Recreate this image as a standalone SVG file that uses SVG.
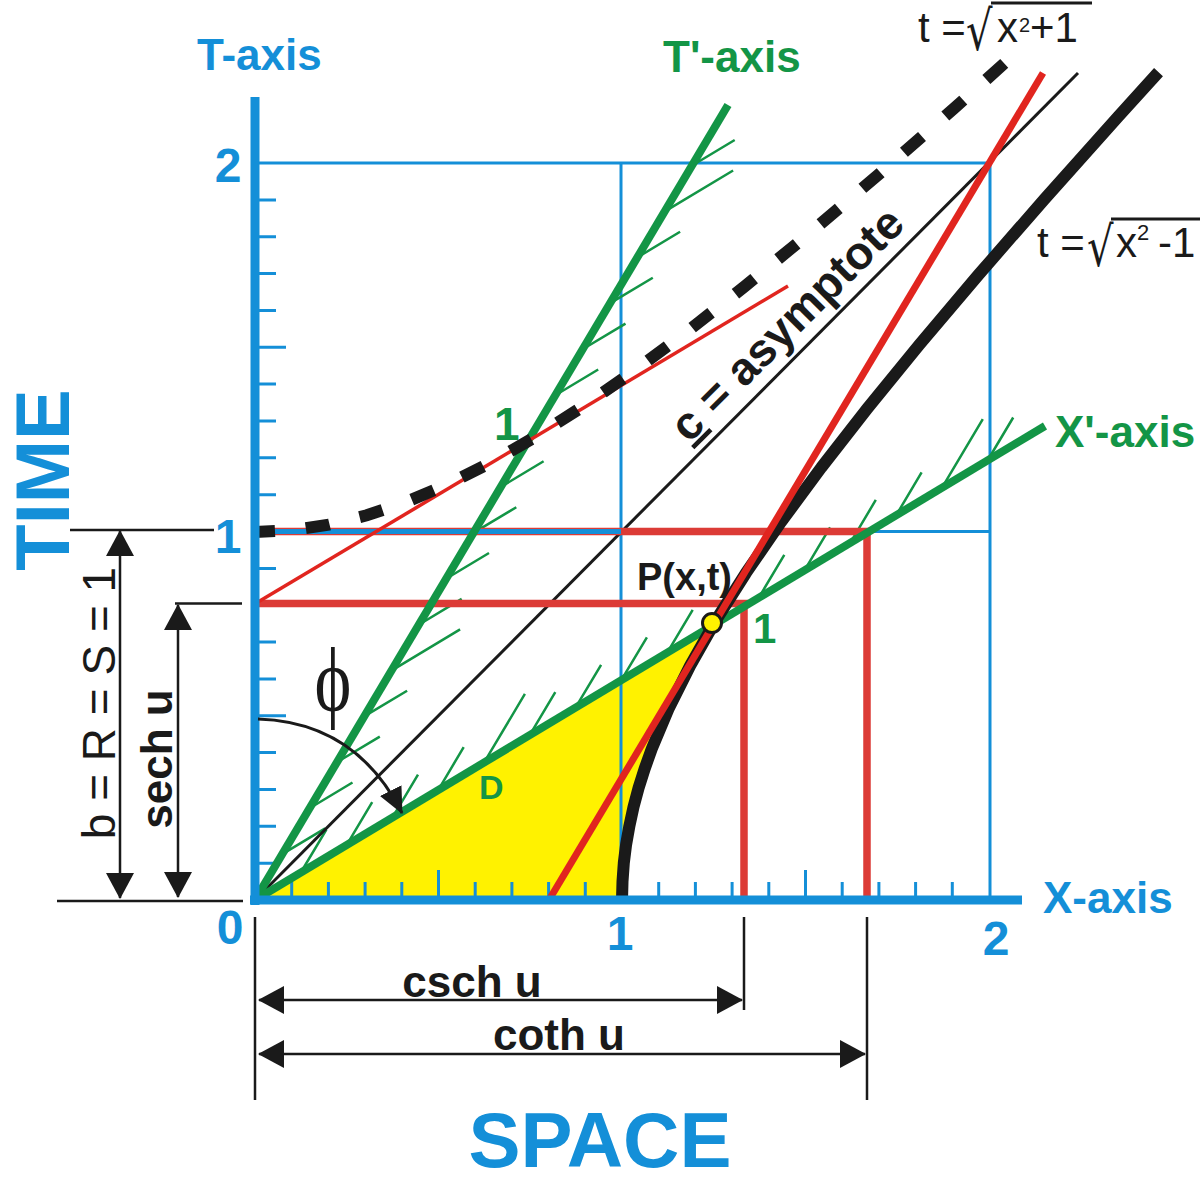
<svg xmlns="http://www.w3.org/2000/svg" width="1200" height="1184" viewBox="0 0 1200 1184">
<style>
.grid{stroke:#148fd8;stroke-width:3;fill:none}
.tick{stroke:#148fd8;stroke-width:3;fill:none}
.axis{stroke:#148fd8;stroke-width:9;fill:none}
.hatch{stroke:#139546;stroke-width:2.5;fill:none}
.gax{stroke:#139546;stroke-width:8;fill:none}
.rr{stroke:#dc3b36;stroke-width:7.5;fill:none}
.rt{stroke:#e1251f;fill:none}
.dim{stroke:#1a1a1a;stroke-width:2.5;fill:none}
.arr{marker-start:url(#ah);marker-end:url(#ah)}
text{font-family:"Liberation Sans",Arial,sans-serif}
.tb{fill:#148fd8;font-weight:bold}
.tg{fill:#139546;font-weight:bold}
.tk{fill:#1a1a1a}
.b{font-weight:bold}
.rad{font-family:"DejaVu Sans",sans-serif;fill:#1a1a1a}
</style>
<defs>
<marker id="ah" viewBox="0 0 26 28" refX="25" refY="14" markerWidth="26" markerHeight="28" markerUnits="userSpaceOnUse" orient="auto-start-reverse"><path d="M0,0 L26,14 L0,28 Z" fill="#1a1a1a"/></marker>
<marker id="ahs" viewBox="0 0 26 24" refX="25" refY="12" markerWidth="26" markerHeight="24" markerUnits="userSpaceOnUse" orient="auto"><path d="M0,0 L26,12 L0,24 Z" fill="#1a1a1a"/></marker>
</defs>
<rect width="1200" height="1184" fill="#fff"/>

<g id="sector">
<polygon points="255,900 713,625 690.1,665.7 668.8,708.2 651.8,748.8 644.7,768.6 638.6,787.9 633.5,807 629.4,825.9 626.1,844.6 623.8,863.1 622.5,881.6 622,900" fill="#fff200"/>
</g>

<g id="grid">
<path class="grid" d="M255,163 H990 M255,531.5 H990 M621,163 V900 M990,163 V900"/>
</g>

<g id="ticks">
<path class="tick" d="M259,863.2 H276 M259,826.3 H276 M259,789.5 H276 M259,752.6 H276 M259,715.8 H286 M259,678.9 H276 M259,642.1 H276 M259,605.2 H276 M259,568.4 H276 M259,494.7 H276 M259,457.8 H276 M259,421 H276 M259,384.1 H276 M259,347.3 H286 M259,310.4 H276 M259,273.6 H276 M259,236.7 H276 M259,199.9 H276"/>
<path class="tick" d="M291.7,896 V882 M328.4,896 V882 M365.1,896 V882 M401.8,896 V882 M438.5,896 V870 M475.2,896 V882 M511.9,896 V882 M548.6,896 V882 M585.3,896 V882 M658.7,896 V882 M695.4,896 V882 M732.1,896 V882 M768.8,896 V882 M805.5,896 V870 M842.2,896 V882 M878.9,896 V882 M915.6,896 V882 M952.3,896 V882"/>
</g>

<g id="hatches">
<path class="hatch" d="M300.8,872.5 L326.4,829.6 M346.6,845.1 L372.2,802.1 M392.4,817.6 L418,774.6 M438.2,790.1 L463.7,747.1 M484,762.7 L524.9,693.9 M529.7,735.2 L555.3,692.2 M575.5,707.7 L601.1,664.8 M621.3,680.2 L646.9,637.3 M667.1,652.8 L692.7,609.8 M758.7,597.8 L784.3,554.9 M804.5,570.4 L830.1,527.4 M850.3,542.9 L875.8,499.9 M896.1,515.4 L921.6,472.4 M941.9,487.9 L982.8,419.2 M987.6,460.5 L1013.2,417.5"/>
<path class="hatch" d="M282.3,854.1 L325.2,828.4 M309.6,808.2 L352.5,782.5 M336.9,762.3 L379.8,736.6 M364.2,716.4 L407.1,690.7 M391.5,670.6 L460.1,629.4 M418.8,624.7 L461.7,598.9 M446.1,578.8 L489,553 M473.4,532.9 L516.3,507.2 M500.7,487 L543.6,461.3 M555.3,395.2 L598.2,369.5 M582.6,349.3 L625.5,323.6 M609.9,303.4 L652.8,277.7 M637.2,257.5 L680.1,231.8 M664.5,211.6 L733.1,170.5 M691.8,165.8 L734.7,140"/>
</g>

<g id="asymptote">
<line x1="255" y1="900" x2="1078" y2="73" stroke="#1a1a1a" stroke-width="3"/>
</g>

<g id="red-rect">
<path class="rr" d="M258,603.5 H748 M744,600 V900 M258,531.5 H871 M867,528 V900"/>
<line x1="258" y1="531.5" x2="621" y2="531.5" stroke="#148fd8" stroke-width="5"/>
</g>

<g id="primed-axes">
<line class="gax" x1="255" y1="900" x2="728" y2="105"/>
<line class="gax" x1="255" y1="900" x2="1045" y2="426"/>
</g>

<g id="tangent-upper">
<line class="rt" x1="258" y1="602" x2="788" y2="286" stroke-width="3.5"/>
</g>

<g id="hyperbola-lower">
<polyline points="622,900 622.5,881.6 623.8,863.1 626.1,844.6 629.4,825.9 633.5,807 638.6,787.9 644.7,768.6 651.8,748.8 668.8,708.2 690.1,665.7 715.6,620.8 745.8,573.2 780.9,522.2 821.3,467.5 867.3,408.5 919.5,344.5 978.3,275 1044.4,199.2 1118.3,116.4 1158.5,72.1" fill="none" stroke="#1a1a1a" stroke-width="12" stroke-linejoin="round"/>
</g>

<g id="hyperbola-upper">
<polyline points="255,532 291.8,530.2 328.9,524.6 366.8,515.3 405.7,502.2 446.2,485 488.6,463.7 533.4,438.1 580.9,407.8 631.7,372.6 686.3,332.2 745.2,286 809,233.7 878.3,174.7 953.9,108.5 1012.6,55.9" fill="none" stroke="#1a1a1a" stroke-width="12" stroke-dasharray="24 31" stroke-dashoffset="4"/>
</g>

<g id="tangent-lower">
<line class="rt" x1="549" y1="900" x2="1043" y2="73" stroke-width="7"/>
</g>

<g id="axes">
<line class="axis" x1="255" y1="97" x2="255" y2="905"/>
<line class="axis" x1="250" y1="900" x2="1022" y2="900"/>
</g>

<g id="dimensions">
<path class="dim" d="M70,530 H214 M175,603.5 H242 M57,901 H243 M255,917 V1100 M744,917 V1010 M867,917 V1100"/>
<line class="dim arr" x1="120" y1="531" x2="120" y2="898"/>
<line class="dim arr" x1="178" y1="605" x2="178" y2="897"/>
<line class="dim arr" x1="259" y1="1000" x2="742" y2="1000"/>
<line class="dim arr" x1="259" y1="1054" x2="865" y2="1054"/>
</g>

<g id="phi-arc">
<path d="M258,719 Q356,722 402,813" fill="none" stroke="#1a1a1a" stroke-width="3" marker-end="url(#ahs)"/>
<text transform="translate(333,711) scale(1,1.3)" font-size="70" text-anchor="middle" style="font-family:'Liberation Serif','DejaVu Serif',serif" fill="#1a1a1a">ϕ</text>
</g>

<g id="point-P">
<circle cx="712" cy="623" r="9.5" fill="#fff200" stroke="#1a1a1a" stroke-width="3"/>
<text class="tk b" font-size="38" x="637" y="590">P(x,t)</text>
</g>

<g id="labels">
<text class="tb" font-size="44" x="197" y="70">T-axis</text>
<text class="tg" font-size="44" x="663" y="72">T'-axis</text>
<text class="tg" font-size="44" x="1055" y="447">X'-axis</text>
<text class="tb" font-size="44" x="1043" y="913">X-axis</text>
<text class="tb" font-size="48" x="228" y="182" text-anchor="middle">2</text>
<text class="tb" font-size="48" x="228" y="553" text-anchor="middle">1</text>
<text class="tb" font-size="48" x="230" y="944" text-anchor="middle">0</text>
<text class="tb" font-size="48" x="620" y="950" text-anchor="middle">1</text>
<text class="tb" font-size="48" x="996" y="955" text-anchor="middle">2</text>
<text class="tb" font-size="76" text-anchor="middle" transform="translate(69,480) rotate(-90)">TIME</text>
<text class="tb" font-size="78" text-anchor="middle" x="600" y="1167">SPACE</text>
<text class="tk" font-size="46" text-anchor="middle" transform="translate(115,703) rotate(-90)">b = R = S = 1</text>
<text class="tk b" font-size="44" text-anchor="middle" transform="translate(172,759) rotate(-90)">sech u</text>
<text class="tk b" font-size="44" text-anchor="middle" x="472" y="997">csch u</text>
<text class="tk b" font-size="44" text-anchor="middle" x="559" y="1050">coth u</text>
<text class="tg" font-size="34" x="479" y="799">D</text>
<text class="tg" font-size="42" x="753" y="643">1</text>
<text class="tg" font-size="46" x="494" y="440">1</text>
<text class="tk b" font-size="46" transform="translate(689,444) rotate(-45)"><tspan text-decoration="underline">c</tspan> = asymptote</text>
</g>

<g id="formula-upper">
<text class="tk" font-size="42" x="918" y="42">t =</text>
<text class="rad" font-size="52" transform="translate(966,50) scale(0.8,1.05)">√</text>
<line x1="991" y1="3" x2="1092" y2="3" stroke="#1a1a1a" stroke-width="3"/>
<text class="tk" font-size="42" x="997" y="42">x</text>
<text class="tk" font-size="20" x="1019" y="32">2</text>
<text class="tk" font-size="42" x="1030" y="42">+1</text>
</g>

<g id="formula-lower">
<text class="tk" font-size="42" x="1037" y="257">t =</text>
<text class="rad" font-size="52" transform="translate(1087,266) scale(0.8,1.05)">√</text>
<line x1="1111" y1="219" x2="1200" y2="219" stroke="#1a1a1a" stroke-width="3"/>
<text class="tk" font-size="42" x="1116" y="257">x</text>
<text class="tk" font-size="22" x="1137" y="240">2</text>
<text class="tk" font-size="42" x="1158" y="257">-1</text>
</g>
</svg>
